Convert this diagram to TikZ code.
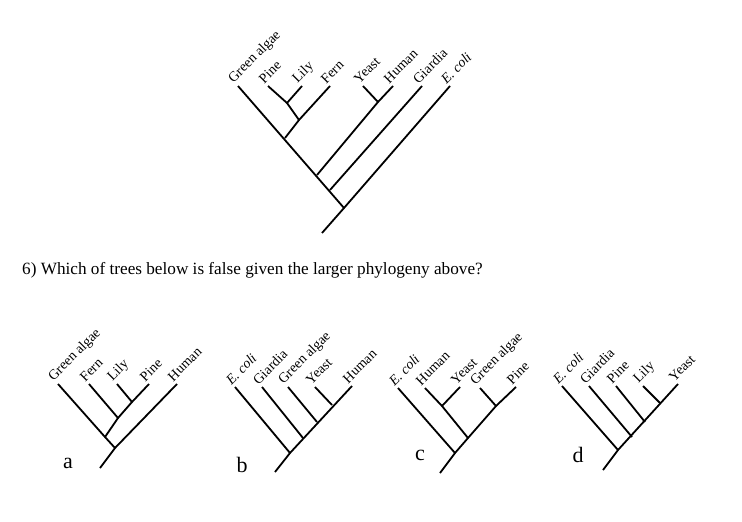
\documentclass[tikz,border=0pt]{standalone}
\usepackage{fontspec}
\setmainfont{Liberation Serif}
\begin{document}
\begin{tikzpicture}[x=1pt,y=-1pt,
  br/.style={line width=1.8pt},
  lab/.style={rotate=45,anchor=west,inner sep=0pt,font=\fontsize{14}{15}\selectfont},
  letter/.style={font=\fontsize{22}{24}\selectfont}]
\useasboundingbox (0,0) rectangle (742,522);
% top tree
\coordinate (R) at (322,233); \coordinate (n1) at (344,208); \coordinate (n2) at (330,190);
\coordinate (n3) at (317,175); \coordinate (n4) at (285,138); \coordinate (n5) at (299,120);
\coordinate (n6) at (287,103); \coordinate (n7) at (378,102);
\coordinate (tGA) at (238,86); \coordinate (tPi) at (268,86); \coordinate (tLi) at (302,86);
\coordinate (tFe) at (330,86); \coordinate (tYe) at (363,86); \coordinate (tHu) at (393,86);
\coordinate (tGi) at (422,86); \coordinate (tEc) at (450,86);
\draw[br] (R)--(n1)--(tEc); \draw[br] (n1)--(tGA); \draw[br] (n2)--(tGi);
\draw[br] (n3)--(n7)--(tHu); \draw[br] (n7)--(tYe);
\draw[br] (n4)--(n5)--(tFe); \draw[br] (n5)--(n6)--(tLi); \draw[br] (n6)--(tPi);
\foreach \t/\s in {tGA/Green algae,tPi/Pine,tLi/Lily,tFe/Fern,tYe/Yeast,tHu/Human,tGi/Giardia}
  \node[lab] (l\t) at ([shift={(-7,-5)}]\t) {\s};
\node[lab] (ltEc) at ([shift={(-7,-5)}]tEc) {\textit{E. coli}};
\node[anchor=west,inner sep=0pt,font=\fontsize{17.2}{18}\selectfont] (q) at (22,270) {6) Which of trees below is false given the larger phylogeny above?};
% tree a
\coordinate (aR) at (100,468); \coordinate (a1) at (115,448); \coordinate (a2) at (105,437);
\coordinate (a3) at (118,418); \coordinate (a4) at (132,402);
\coordinate (aGA) at (58,384); \coordinate (aFe) at (89,384); \coordinate (aLi) at (117,384);
\coordinate (aPi) at (149,384); \coordinate (aHu) at (177,384);
\draw[br] (aR)--(a1)--(aHu); \draw[br] (a1)--(a2)--(aGA); \draw[br] (a2)--(a3)--(aFe);
\draw[br] (a3)--(a4)--(aPi); \draw[br] (a4)--(aLi);
\foreach \t/\s in {aGA/Green algae,aFe/Fern,aLi/Lily,aPi/Pine,aHu/Human}
  \node[lab] (l\t) at ([shift={(-7,-5)}]\t) {\s};
\node[letter] (la) at (68,463) {a};
% tree b
\coordinate (bR) at (275,472); \coordinate (b1) at (290,453); \coordinate (b2) at (303,438);
\coordinate (b3) at (317,422); \coordinate (b4) at (332,405);
\coordinate (bEc) at (235,387); \coordinate (bGi) at (262,387); \coordinate (bGA) at (288,387);
\coordinate (bYe) at (315,387); \coordinate (bHu) at (352,386);
\draw[br] (bR)--(b1)--(bHu); \draw[br] (b1)--(bEc); \draw[br] (b2)--(bGi);
\draw[br] (b3)--(bGA); \draw[br] (b4)--(bYe);
\node[lab] (lbEc) at ([shift={(-7,-5)}]bEc) {\textit{E. coli}};
\foreach \t/\s in {bGi/Giardia,bGA/Green algae,bYe/Yeast,bHu/Human}
  \node[lab] (l\t) at ([shift={(-7,-5)}]\t) {\s};
\node[letter] (lb) at (242,465) {b};
% tree c
\coordinate (cR) at (440,473); \coordinate (c1) at (455,453); \coordinate (c2) at (468,438);
\coordinate (c3) at (442,406); \coordinate (c4) at (496,406);
\coordinate (cEc) at (398,388); \coordinate (cHu) at (425,388); \coordinate (cYe) at (460,387);
\coordinate (cGA) at (480,388); \coordinate (cPi) at (516,387);
\draw[br] (cR)--(c1)--(c2)--(c4)--(cPi); \draw[br] (c1)--(cEc); \draw[br] (c2)--(c3)--(cHu);
\draw[br] (c3)--(cYe); \draw[br] (c4)--(cGA);
\node[lab] (lcEc) at ([shift={(-7,-5)}]cEc) {\textit{E. coli}};
\foreach \t/\s in {cHu/Human,cYe/Yeast,cGA/Green algae,cPi/Pine}
  \node[lab] (l\t) at ([shift={(-7,-5)}]\t) {\s};
\node[letter] (lc) at (420,455) {c};
% tree d
\coordinate (dR) at (603,470); \coordinate (d1) at (618,450); \coordinate (d2) at (632,437);
\coordinate (d3) at (645,422); \coordinate (d4) at (660,403);
\coordinate (dEc) at (562,386); \coordinate (dGi) at (589,386); \coordinate (dPi) at (616,386);
\coordinate (dLi) at (643,386); \coordinate (dYe) at (678,384);
\draw[br] (dR)--(d1)--(dYe); \draw[br] (d1)--(dEc); \draw[br] (d2)--(dGi);
\draw[br] (d3)--(dPi); \draw[br] (d4)--(dLi);
\node[lab] (ldEc) at ([shift={(-7,-5)}]dEc) {\textit{E. coli}};
\foreach \t/\s in {dGi/Giardia,dPi/Pine,dLi/Lily,dYe/Yeast}
  \node[lab] (l\t) at ([shift={(-7,-5)}]\t) {\s};
\node[letter] (ld) at (578,455) {d};
\end{tikzpicture}
\end{document}
